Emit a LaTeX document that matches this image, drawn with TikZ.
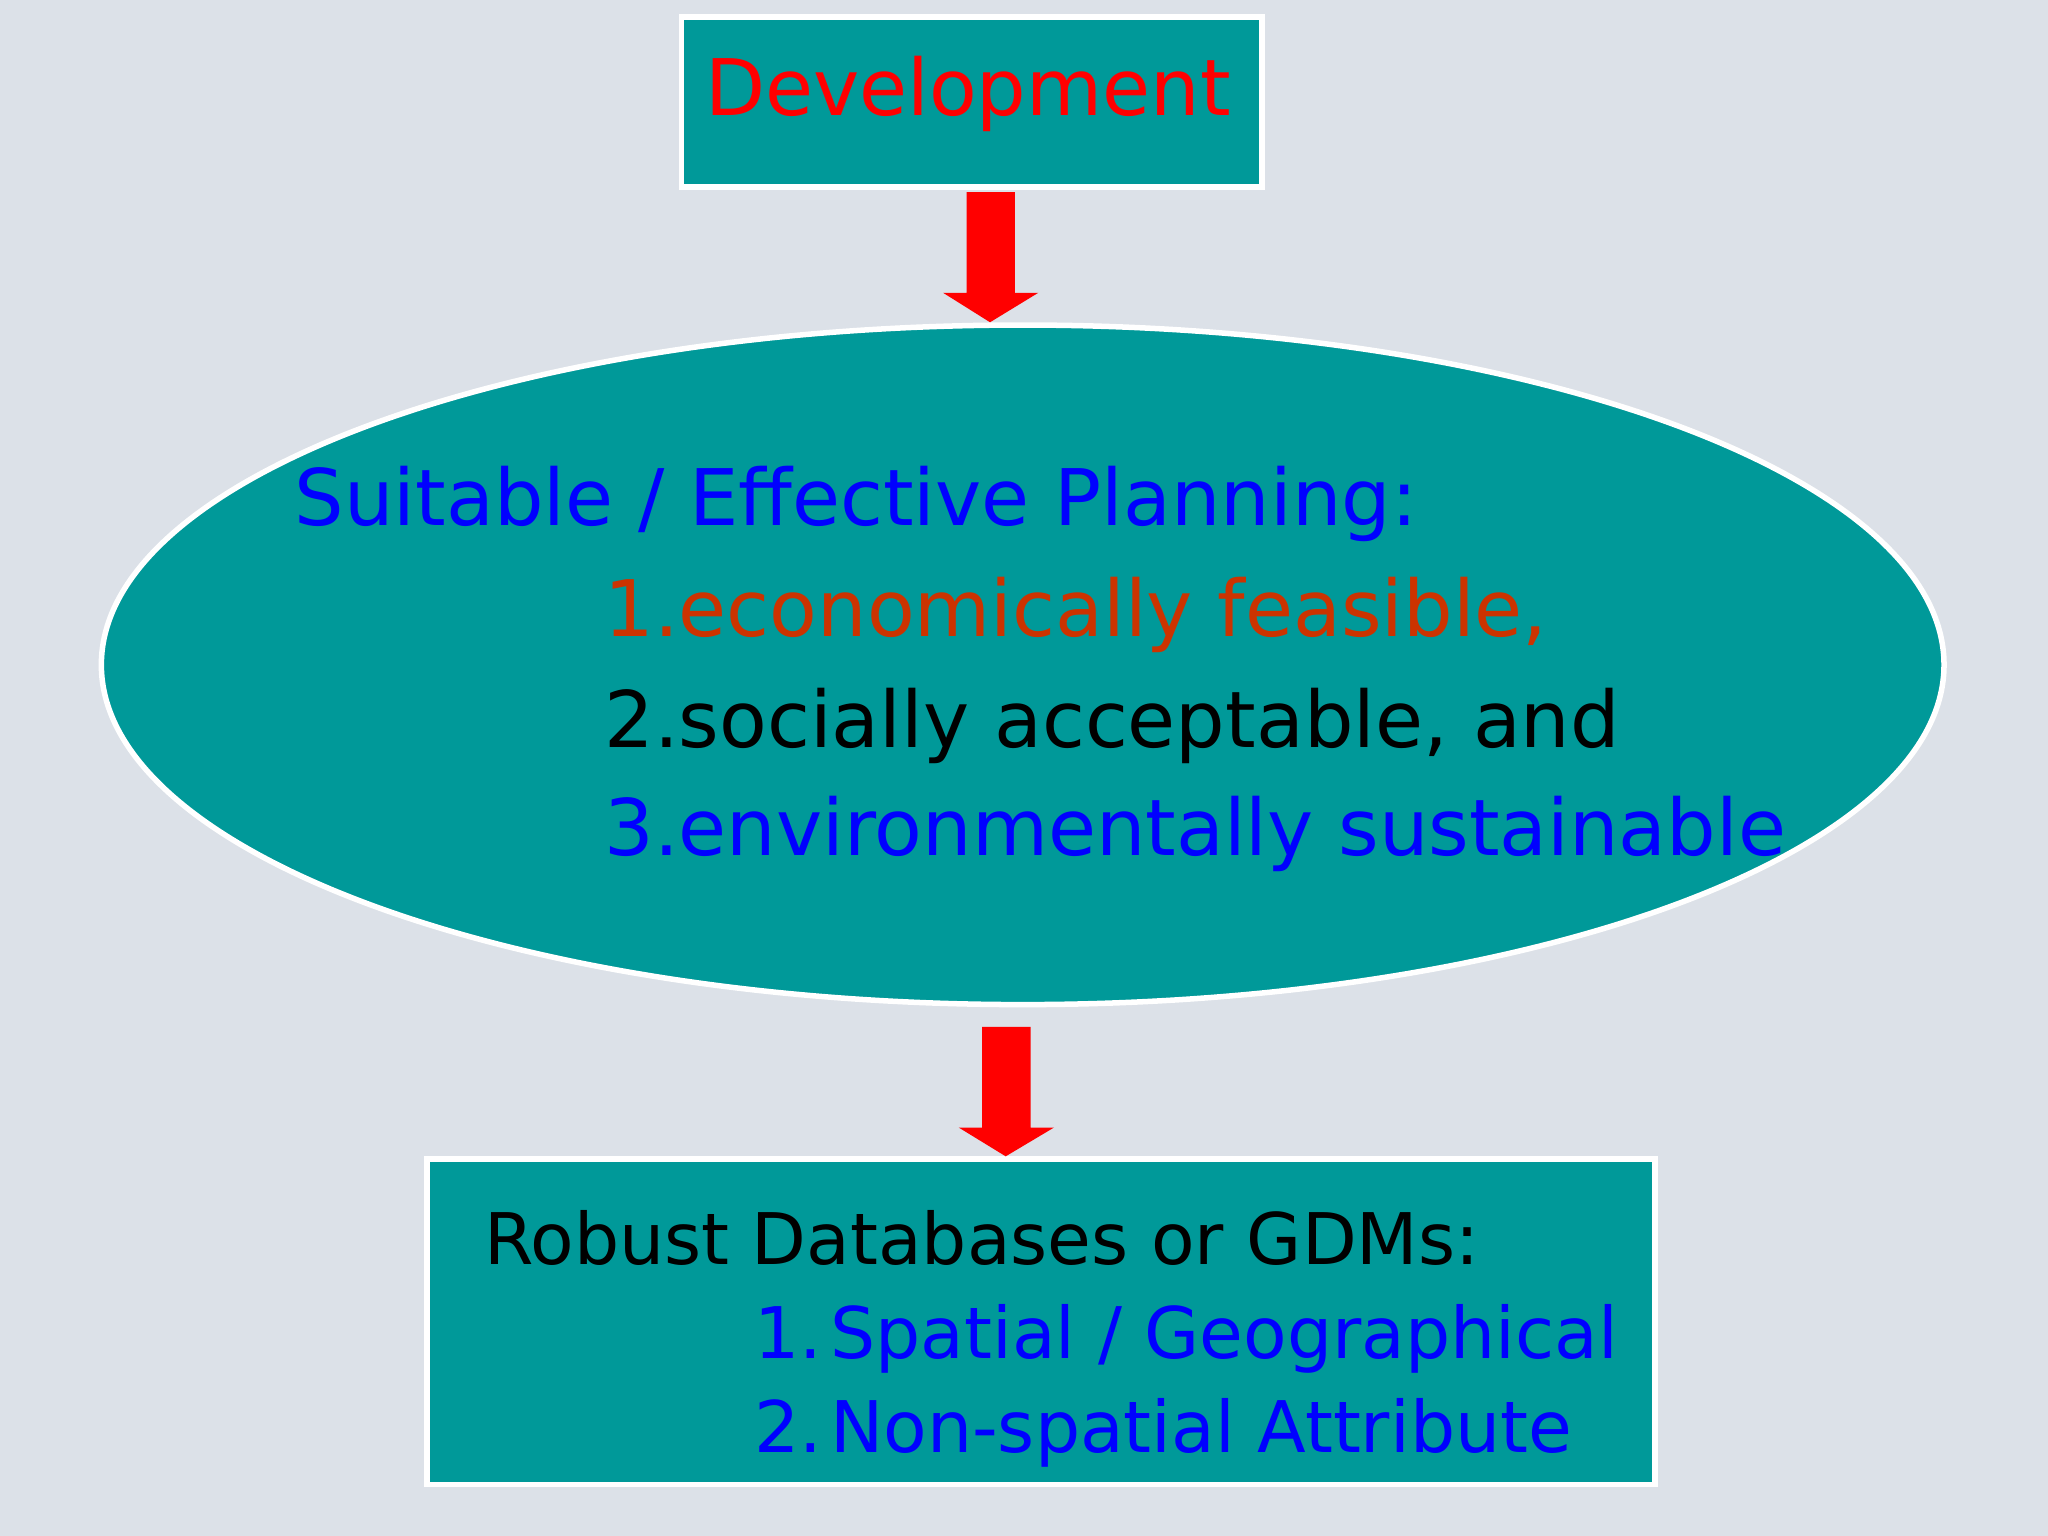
\documentclass[tikz,border=0pt]{standalone}
\usepackage{fontspec}
\setmainfont{DejaVu Sans}
\usetikzlibrary{shapes.geometric,calc}
\definecolor{bg}{RGB}{220,225,232}
\definecolor{teal1}{RGB}{0,153,153}
\definecolor{rust}{RGB}{204,51,0}
\definecolor{myblue}{RGB}{0,0,255}
\tikzset{
 shapebox/.style={fill=teal1,draw=white,line width=1.2pt},
 big/.style={font=\fontsize{17}{20}\selectfont,anchor=base west,inner sep=0},
 small/.style={font=\fontsize{15.5}{18}\selectfont,anchor=base west,inner sep=0},
 redarrow/.style={fill=red,draw=none}
}
\begin{document}
\begin{tikzpicture}[x=0.01cm,y=-0.01cm]
\fill[bg] (0,0) rectangle (1568,1176);
\useasboundingbox (0,0) rectangle (1568,1176);
\node[shapebox,minimum width=4.44cm,minimum height=1.30cm] (dev) at (744,78) {};
\node[font=\fontsize{17}{20}\selectfont,text=red] at (741,72) {Development};
\node[shapebox,ellipse,minimum width=14.1cm,minimum height=5.2cm] (plan) at (783,509) {};
\node[shapebox,minimum width=9.4cm,minimum height=2.49cm] (db) at (797,1012) {};
% arrows
\path (dev.south) ++(14,0) coordinate (a1);
\fill[redarrow] ($(a1)+(-18,2)$) -- ($(a1)+(19,2)$) -- ($(a1)+(19,79)$) -- ($(a1)+(37,79)$) -- (plan.north -| a1) -- ($(a1)+(-36,79)$) -- ($(a1)+(-18,79)$) -- cycle;
\path (plan.south) ++(-13,0) coordinate (a2);
\fill[redarrow] ($(a2)+(-18,15)$) -- ($(a2)+(19,15)$) -- ($(a2)+(19,92)$) -- ($(a2)+(37,92)$) -- (db.north -| a2) -- ($(a2)+(-36,92)$) -- ($(a2)+(-18,92)$) -- cycle;
% texts
\node[big,text=myblue] (t0) at (225,402) {Suitable / Effective Planning:};
\node[big,text=rust] (t1) at (462,487) {1.economically feasible,};
\node[big,text=black] (t2) at (462,572) {2.socially acceptable, and};
\node[big,text=myblue] (t3) at (462,655) {3.environmentally sustainable};
\node[small,text=black] (b0) at (370,968) {Robust Databases or GDMs:};
\node[small,text=myblue] (b1n) at (577,1040) {1.};
\node[small,text=myblue] (b1) at (635,1040) {Spatial / Geographical};
\node[small,text=myblue] (b2n) at (577,1112) {2.};
\node[small,text=myblue] (b2) at (635,1112) {Non-spatial Attribute};
\end{tikzpicture}
\end{document}
